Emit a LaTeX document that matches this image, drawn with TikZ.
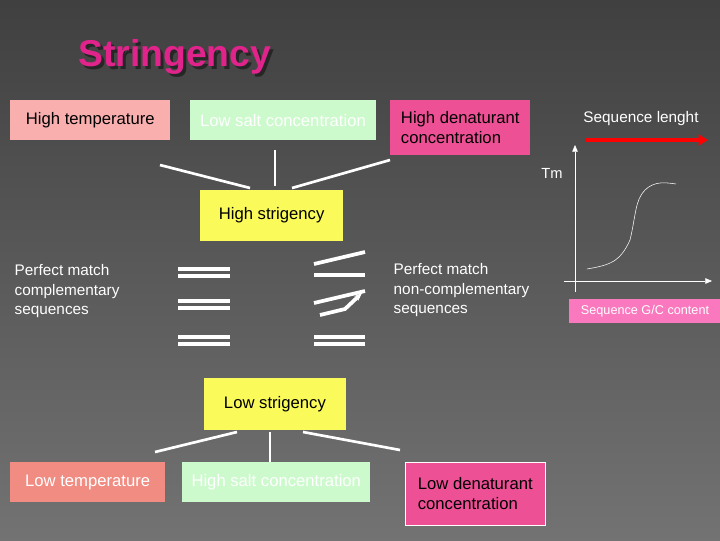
\documentclass[tikz,border=0pt]{standalone}
\usepackage{fontspec}
\setmainfont{Liberation Sans}
\usetikzlibrary{positioning, arrows.meta}
\definecolor{hotpink}{RGB}{238,80,150}
\definecolor{titlepink}{RGB}{225,35,140}
\definecolor{lightpink}{RGB}{250,175,175}
\definecolor{lightgreen}{RGB}{205,250,205}
\definecolor{salmon}{RGB}{240,140,130}
\definecolor{gcpink}{RGB}{250,120,190}
\definecolor{strigyellow}{RGB}{250,250,90}
\tikzset{
  box/.style={rectangle, anchor=north west, inner sep=2pt, font=\fontsize{12.5}{14.5}\selectfont},
  strand/.style={white, line width=2.8pt},
  link/.style={white, line width=2pt}
}
\begin{document}
\begin{tikzpicture}[x=0.75pt, y=-0.75pt]
        % Background
        \shade[top color=black!75, bottom color=black!55] (0,0) rectangle (720,540);
        \useasboundingbox (0,0) rectangle (720,540);

        % Title
        \node[anchor=west, inner sep=0pt, text=black!85, font=\bfseries\fontsize{28}{32}\selectfont] at (81,60) {Stringency};
        \node[anchor=west, inner sep=0pt, text=titlepink, font=\bfseries\fontsize{28}{32}\selectfont] (title) at (78,57) {Stringency};

        % Conditions
        \node[box, fill=lightpink, minimum width=120pt, minimum height=30pt, text=black] (htemp) at (10,100) {High temperature};
        \node[box, fill=lightgreen, minimum width=139pt, minimum height=30pt, text=white] (lsalt) at (190,100) {Low salt concentration};
        \node[box, fill=hotpink, minimum width=105pt, minimum height=41pt, text=black, align=left] (hdenat) at (390,100) {High denaturant\\concentration};
        \node[box, fill=salmon, minimum width=116pt, minimum height=30pt, text=white] (ltemp) at (10,462) {Low temperature};
        \node[box, fill=lightgreen, minimum width=141pt, minimum height=30pt, text=white] (hsalt) at (182,462) {High salt concentration};
        \node[box, fill=hotpink, draw=white, minimum width=105pt, minimum height=47pt, text=black, align=left] (ldenat) at (405,462) {Low denaturant\\concentration};

        % Stringency boxes
        \node[box, fill=strigyellow, minimum width=107pt, minimum height=38pt, text=black] (high) at (200,190) {High strigency};
        \node[box, fill=strigyellow, minimum width=106pt, minimum height=39pt, text=black] (low) at (204,378) {Low strigency};

        % Connections
        \coordinate (h1) at (160,165);
        \coordinate (h2) at (275,150);
        \coordinate (h3) at (390,160);
        \coordinate (l1) at (155,452);
        \coordinate (l2) at (270,432);
        \coordinate (l3) at (400,450);
        \draw[link] (h1) -- (250,188);
        \draw[link] (h2) -- (275,186);
        \draw[link] (h3) -- (292,188);
        \draw[link] (l1) -- (237,432);
        \draw[link] (l2) -- (270,462);
        \draw[link] (l3) -- (303,432);

        % Sequences
        \node[anchor=north west, align=left, text=white, font=\fontsize{11.5}{14.5}\selectfont] (perfect) at (10,260) {Perfect match\\complementary\\sequences};
        \node[anchor=north west, align=left, text=white, font=\fontsize{11.5}{14.5}\selectfont] (noncomp) at (389,259) {Perfect match\\non-complementary\\sequences};
        \foreach \y in {269,301,337} {
          \draw[strand] (178,\y) -- (230,\y);
          \draw[strand] (178,\y+7) -- (230,\y+7);
        }
        \draw[strand] (314,264) -- (365,252);
        \draw[strand] (314,275) -- (365,275);
        \draw[strand] (314,303) -- (365,291);
        \draw[strand, -{Stealth[length=6pt]}] (320,315) -- (345,309) -- (362,293);
        \draw[strand] (314,337) -- (365,337);
        \draw[strand] (314,344) -- (365,344);

        % Graph
        \node[text=white, font=\fontsize{11.5}{13}\selectfont] (len) at (641,119) {Sequence lenght};
        \coordinate (ls) at (585,140);
        \coordinate (le) at (708,140);
        \draw[red, line width=3pt, -{Triangle[length=7pt, width=8pt]}] (ls) -- (le);
        \coordinate (origin) at (575,282);
        \coordinate (ytop) at (575,145);
        \coordinate (xend) at (712,281);
        \draw[white, -{Triangle[length=5pt]}] (575,292) -- (ytop);
        \draw[white, -{Triangle[length=5pt]}] (564,281) -- (xend);
        \node[text=white, font=\fontsize{11}{13}\selectfont] (tm) at (552,173) {Tm};
        \draw[white, thin] (587,269) .. controls (610,265) and (620,262) .. (630,240)
          .. controls (636,215) and (635,200) .. (645,190) .. controls (655,180) and (668,183) .. (676,184);
        \node[fill=gcpink, text=white, minimum width=114pt, minimum height=18pt, inner sep=1pt, font=\fontsize{9.5}{11}\selectfont] (gc) at (645,311) {Sequence G/C content};
\end{tikzpicture}
\end{document}
